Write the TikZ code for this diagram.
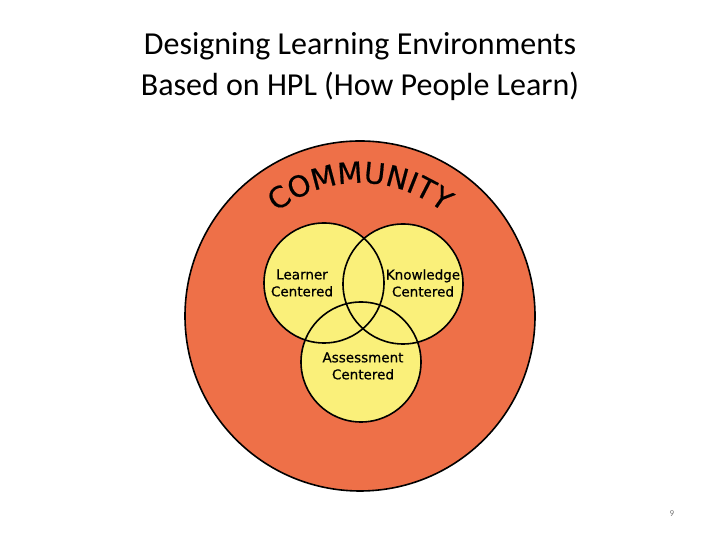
\documentclass[tikz,border=0pt]{standalone}
\usepackage{fontspec}
\setmainfont{Carlito}
\newfontfamily\handfont[FakeBold=0.6]{DejaVu Sans}
\usetikzlibrary{positioning,decorations.text}
\definecolor{commorange}{RGB}{238,112,72}
\definecolor{vennyellow}{RGB}{250,240,122}
\definecolor{pagegray}{RGB}{120,120,120}

\begin{document}
\begin{tikzpicture}[x=1pt,y=1pt]
  \tikzstyle{every node}+=[inner sep=0pt]
  \tikzstyle{title}=[font=\fontsize{32}{36}\selectfont, anchor=base]
  \tikzstyle{venn}=[circle, fill=vennyellow, minimum size=120pt]
  \tikzstyle{ring}=[black, line width=1.6pt]
  \tikzstyle{lbl}=[font=\handfont\fontsize{13.5}{17}\selectfont, align=center]
  \useasboundingbox (0,0) rectangle (720,540);
  \fill [white] (0,0) rectangle (720,540);
  % title
  \node [title] (title1) at (360,485) {Designing Learning Environments};
  \node [title] (title2) at (360,444) {Based on HPL (How People Learn)};
  % community
  \node [circle, fill=commorange, minimum size=350pt] (community) at (360,224) {};
  \draw [ring] (community) circle (175pt);
  \path [decorate, decoration={text along path, text align=center,
      text format delimiters={|}{|},
      text={|\handfont\fontsize{29}{30}\selectfont|COMMUNITY}}]
    ([shift={(150:133)}]community.center) arc (150:30:133);
  % the three centres
  \node [venn] (learner) at (324,257) {};
  \node [venn] (knowledge) at (403,256) {};
  \node [venn] (assessment) at (361,178) {};
  \foreach \n in {learner,knowledge,assessment}
    \draw [ring] (\n) circle (60pt);
  \node [lbl] (learnertxt) at ([xshift=-22pt]learner.center) {Learner\\Centered};
  \node [lbl] (knowledgetxt) at ([xshift=20pt,yshift=1pt]knowledge.center) {Knowledge\\Centered};
  \node [lbl] (assessmenttxt) at ([xshift=2pt,yshift=-4pt]assessment.center) {Assessment\\Centered};
  % page number
  \node [font=\fontsize{9}{10}\selectfont, text=pagegray] (pagenum) at (672,26) {9};
\end{tikzpicture}
\end{document}
